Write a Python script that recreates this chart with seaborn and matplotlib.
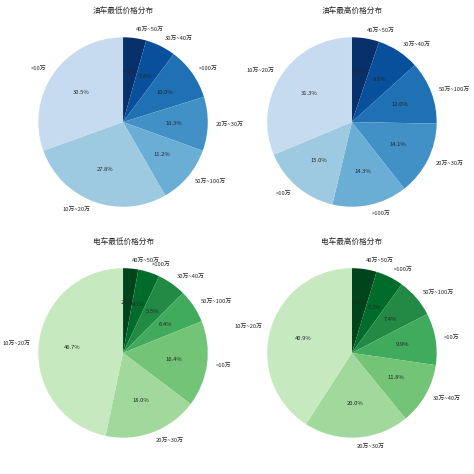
import seaborn as sns
import matplotlib.pyplot as plt
import numpy as np
import pandas as pd

sns.set_theme(style="white")
plt.rcParams['font.family'] = ['Noto Sans CJK SC', 'DejaVu Sans']
plt.rcParams['axes.unicode_minus'] = False

# 油车最低价格分布
oil_low_labels = ["40万~50万", "30万~40万", ">100万", "20万~30万", "50万~100万", "10万~20万", "<10万"]
oil_low_values = [4.4, 5.8, 10.0, 10.3, 11.2, 27.8, 30.5]

# 油车最高价格分布
oil_high_labels = ["40万~50万", "30万~40万", "50万~100万", "20万~30万", ">100万", "<10万", "10万~20万"]
oil_high_values = [5.2, 8.1, 12.0, 14.1, 14.3, 15.0, 31.3]

# 电车最低价格分布
ev_low_labels = ["40万~50万", ">100万", "30万~40万", "50万~100万", "<10万", "20万~30万", "10万~20万"]
ev_low_values = [2.9, 4.1, 5.5, 6.4, 16.4, 18.0, 46.7]

# 电车最高价格分布
ev_high_labels = ["40万~50万", ">100万", "50万~100万", "<10万", "30万~40万", "20万~30万", "10万~20万"]
ev_high_values = [4.7, 5.3, 7.4, 9.9, 11.8, 20.0, 40.9]

charts = [
    ("油车最低价格分布", oil_low_labels, oil_low_values, "Blues"),
    ("油车最高价格分布", oil_high_labels, oil_high_values, "Blues"),
    ("电车最低价格分布", ev_low_labels, ev_low_values, "Greens"),
    ("电车最高价格分布", ev_high_labels, ev_high_values, "Greens"),
]

fig, axes = plt.subplots(2, 2, figsize=(4.74, 4.74), dpi=100)
plt.subplots_adjust(left=0.036, right=0.966, top=0.966, bottom=0.032, wspace=0.08, hspace=0.09)

for ax, (title, labels, values, cmap) in zip(axes.flat, charts):
    df = pd.DataFrame({"label": labels, "value": values}).sort_values("value")
    # dark to light, biggest slice lightest
    colors = plt.get_cmap(cmap)(np.linspace(1.0, 0.25, len(df)))
    ax.pie(df["value"], labels=df["label"], colors=colors, autopct="%.1f%%",
           startangle=90, counterclock=False,
           wedgeprops={"linewidth": 0},
           textprops={"fontsize": 4.2})
    ax.set_title(title, fontsize=5.5, pad=0)
    ax.set_aspect("equal")

plt.savefig("out.png", dpi=100)
plt.close()
